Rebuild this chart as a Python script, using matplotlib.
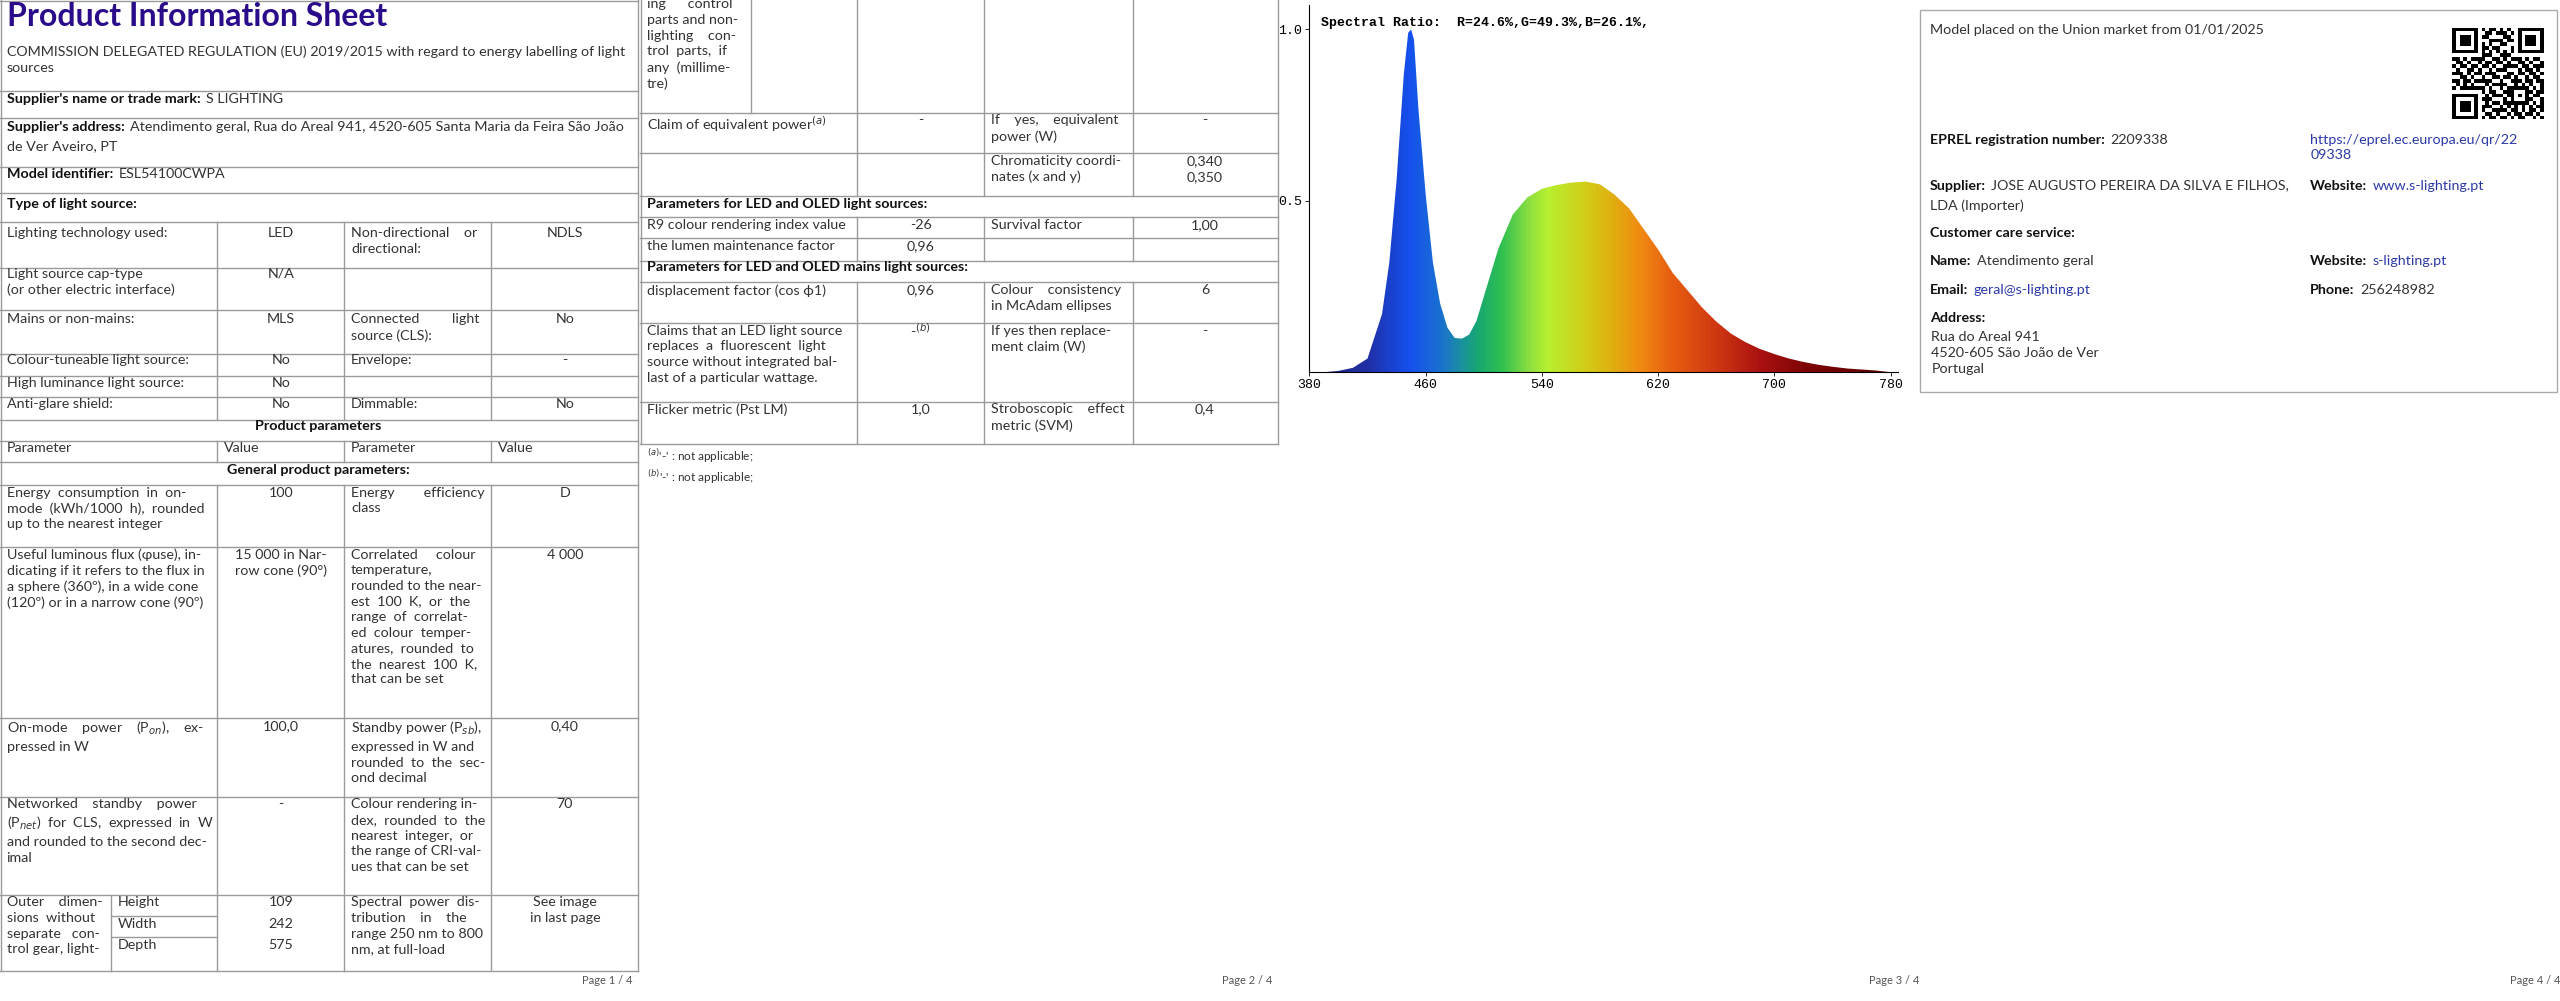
import numpy as np
import matplotlib
matplotlib.use("Agg")
import matplotlib.pyplot as plt
from matplotlib.colors import LinearSegmentedColormap
from matplotlib.patches import Rectangle

plt.rcParams['font.family'] = ['Lato', 'DejaVu Sans']

# spectrum (relative power)
wavelength = [380, 390, 400, 410, 420, 430, 435, 440, 445, 448, 450, 452, 455, 460, 465,
              470, 475, 480, 485, 490, 495, 500, 505, 510, 520, 530, 540, 550, 560, 570,
              580, 590, 600, 610, 620, 630, 640, 650, 660, 670, 680, 690, 700, 710, 720,
              730, 740, 750, 760, 770, 780]
power = [0.0, 0.0, 0.004, 0.013, 0.04, 0.17, 0.32, 0.56, 0.87, 0.99, 1.0, 0.97, 0.77, 0.52, 0.32,
         0.2, 0.13, 0.1, 0.098, 0.11, 0.15, 0.22, 0.29, 0.36, 0.46, 0.51, 0.535, 0.546, 0.553, 0.556,
         0.548, 0.518, 0.478, 0.418, 0.358, 0.29, 0.24, 0.19, 0.148, 0.113, 0.088, 0.068, 0.053, 0.04, 0.03,
         0.022, 0.016, 0.011, 0.008, 0.005, 0.0]
x_ticks = [380, 460, 540, 620, 700, 780]
ratio_text = 'Spectral Ratio:  R=24.6%,G=49.3%,B=26.1%,'

W, H = 2560, 1001
K = 2560 / 1568.0  # layout measured on a 1568-wide view
FS = 10.3
LS = 1.36
BLUE_LINK = '#2b3aa8'

fig = plt.figure(figsize=(W / 100, H / 100), dpi=100)
ax = fig.add_axes([0, 0, 1, 1])
ax.set_xlim(0, W)
ax.set_ylim(H, 0)
ax.axis('off')


def hl(x0, x1, y, c='#9a9a9a'):
    ax.plot([x0 * K, x1 * K], [y * K, y * K], color=c, lw=1.0)


def vl(x, y0, y1, c='#9a9a9a'):
    ax.plot([x * K, x * K], [y0 * K, y1 * K], color=c, lw=1.0)


def tx(x, y, s, ha='left', bold=False, size=FS, color='#333333', **kw):
    return ax.text(x * K, y * K, s, ha=ha, va='top', fontsize=size, color=color,
                   fontweight='bold' if bold else 'normal', linespacing=LS, **kw)


def kv(x, y, key, val, color='#333333'):
    t = tx(x, y, key, bold=True, color='#111111')
    ax.annotate(val, xy=(1, 1), xycoords=t, xytext=(4, 0), textcoords='offset points',
                ha='left', va='top', fontsize=FS, color=color, linespacing=LS)
    return t


# ---------------- page 1 ----------------
tx(4, 1, 'Product Information Sheet', bold=True, size=23, color='#2a0c8a')
tx(4, 28, 'COMMISSION DELEGATED REGULATION (EU) 2019/2015 with regard to energy labelling of light\nsources')
for y in [56, 72, 102, 118, 136, 164, 190, 217, 230, 243, 257, 270, 283, 297, 335, 440, 488, 548, 595]:
    hl(0, 391, y)
vl(0.5, 0, 595)
vl(391, 0, 595)
hl(0, 391, 0.5)
for x in [133, 211, 301]:
    vl(x, 136, 257)
    vl(x, 270, 283)
    vl(x, 297, 595)
vl(68, 548, 595)
hl(68, 133, 561)
hl(68, 133, 574)

kv(4, 57, "Supplier's name or trade mark:", 'S LIGHTING')
kv(4, 74, "Supplier's address:", 'Atendimento geral, Rua do Areal 941, 4520-605 Santa Maria da Feira São João')
tx(4, 86, 'de Ver Aveiro, PT')
kv(4, 103, 'Model identifier:', 'ESL54100CWPA')
tx(4, 121, 'Type of light source:', bold=True, color='#111111')

rows1 = [
    (139, 'Lighting technology used:', 'LED', 'Non-directional    or\ndirectional:', 'NDLS'),
    (164, 'Light source cap-type\n(or other electric interface)', 'N/A', '', ''),
    (192, 'Mains or non-mains:', 'MLS', 'Connected         light\nsource (CLS):', 'No'),
    (217, 'Colour-tuneable light source:', 'No', 'Envelope:', '-'),
    (231, 'High luminance light source:', 'No', '', ''),
    (244, 'Anti-glare shield:', 'No', 'Dimmable:', 'No'),
    (298, 'Energy  consumption  in  on-\nmode  (kWh/1000  h),  rounded\nup to the nearest integer', '100',
     'Energy        efficiency\nclass', 'D'),
    (336, 'Useful luminous flux (\u03c6use), in-\ndicating if it refers to the flux in\n'
          'a sphere (360º), in a wide cone\n(120º) or in a narrow cone (90º)', '15 000 in Nar-\nrow cone (90°)',
     'Correlated     colour\ntemperature,\nrounded to the near-\nest  100  K,  or  the\nrange  of  correlat-\n'
     'ed  colour  temper-\natures,  rounded  to\nthe  nearest  100  K,\nthat can be set', '4 000'),
    (441, 'On-mode    power    (P$_{on}$),    ex-\npressed in W', '100,0',
     'Standby power (P$_{sb}$),\nexpressed in W and\nrounded  to  the  sec-\nond decimal', '0,40'),
    (489, 'Networked    standby    power\n(P$_{net}$)  for  CLS,  expressed  in  W\nand rounded to the second dec-\nimal', '-',
     'Colour rendering in-\ndex,  rounded  to  the\nnearest  integer,  or\nthe range of CRI-val-\nues that can be set', '70'),
    (549, 'Outer    dimen-\nsions  without\nseparate   con-\ntrol gear, light-', '',
     'Spectral  power  dis-\ntribution    in    the\nrange 250 nm to 800\nnm, at full-load', 'See image\nin last page'),
]
for y, a, b, c, d in rows1:
    tx(4, y, a)
    tx(172, y, b, ha='center', multialignment='center')
    tx(215, y, c)
    tx(346, y, d, ha='center', multialignment='center')
tx(195, 257, 'Product parameters', ha='center', bold=True, color='#111111')
tx(4, 271, 'Parameter'); tx(137, 271, 'Value'); tx(215, 271, 'Parameter'); tx(305, 271, 'Value')
tx(195, 284, 'General product parameters:', ha='center', bold=True, color='#111111')
for y, nm, v in [(549, 'Height', '109'), (562, 'Width', '242'), (575, 'Depth', '575')]:
    tx(72, y, nm)
    tx(172, y, v, ha='center')
tx(372, 597, 'Page 1 / 4', ha='center', size=8, color='#555555')

# ---------------- page 2 ----------------
for y in [69, 94, 120, 133, 146, 160, 173, 198, 246, 272]:
    hl(392, 783, y)
vl(392.5, 0, 272)
vl(783, 0, 272)
for x in [525, 603, 694]:
    for y0, y1 in [(0, 120), (133, 160), (173, 272)]:
        vl(x, y0, y1)
vl(460, 0, 69)
tx(396, -1, 'ing      control\nparts and non-\nlighting    con-\ntrol  parts,  if\nany  (millime-\ntre)')
rows2 = [
    (70, 'Claim of equivalent power$^{(a)}$', '-', 'If    yes,    equivalent\npower (W)', '-'),
    (95, '', '', 'Chromaticity coordi-\nnates (x and y)', '0,340\n0,350'),
    (134, 'R9 colour rendering index value', '-26', 'Survival factor', '1,00'),
    (147, 'the lumen maintenance factor', '0,96', '', ''),
    (174, 'displacement factor (cos \u03d51)', '0,96', 'Colour    consistency\nin McAdam ellipses', '6'),
    (199, 'Claims that an LED light source\nreplaces  a  fluorescent  light\nsource without integrated bal-\n'
          'last of a particular wattage.', '-$^{(b)}$', 'If yes then replace-\nment claim (W)', '-'),
    (247, 'Flicker metric (Pst LM)', '1,0', 'Stroboscopic    effect\nmetric (SVM)', '0,4'),
]
for y, a, b, c, d in rows2:
    tx(396, y, a)
    tx(564, y, b, ha='center', multialignment='center')
    tx(607, y, c)
    tx(738, y, d, ha='center', multialignment='center')
tx(396, 121, 'Parameters for LED and OLED light sources:', bold=True, color='#111111')
tx(396, 160, 'Parameters for LED and OLED mains light sources:', bold=True, color='#111111')
tx(396, 274, "$^{(a)}$'-' : not applicable;", size=8.5)
tx(396, 287, "$^{(b)}$'-' : not applicable;", size=8.5)
tx(764, 597, 'Page 2 / 4', ha='center', size=8, color='#555555')

# ---------------- page 3: spectrum ----------------
x_px0, x_px1 = 802 * K, 1158 * K
y_px0, y_px1 = 228 * K, 18 * K
ymax = 1.07
sax = fig.add_axes([x_px0 / W, 1 - y_px0 / H, (x_px1 - x_px0) / W * 405 / 400,
                    (y_px0 - y_px1) * ymax / H])
sax.set_xlim(380, 785)
sax.set_ylim(0, ymax)
spec_cmap = LinearSegmentedColormap.from_list('spec', [
    (0.00, '#20206a'), (0.10, '#2030a8'), (0.17, '#1550ee'), (0.225, '#1a70d0'),
    (0.26, '#1a90a0'), (0.29, '#18a870'), (0.33, '#30c050'), (0.38, '#90e040'),
    (0.41, '#b8f030'), (0.47, '#d0d018'), (0.52, '#e0b010'), (0.57, '#f08a10'),
    (0.62, '#e86010'), (0.70, '#d03812'), (0.78, '#a81010'), (0.86, '#7c0404'),
    (1.00, '#5a0000')])
poly = sax.fill_between(wavelength, 0, power, color='none', lw=0)
grad = np.linspace(0, 1, 400).reshape(1, -1)
im = sax.imshow(grad, extent=[380, 780, 0, 1.0], aspect='auto', cmap=spec_cmap,
                origin='lower', zorder=1)
im.set_clip_path(poly.get_paths()[0], transform=sax.transData)
for s in ['top', 'right']:
    sax.spines[s].set_visible(False)
sax.spines['left'].set_linewidth(0.8)
sax.spines['bottom'].set_linewidth(0.8)
sax.set_xticks(x_ticks)
sax.set_xticklabels([str(v) for v in x_ticks], family='Liberation Mono', fontsize=9.5)
sax.set_yticks([0.5, 1.0])
sax.set_yticklabels(['0.5', '1.0'], family='Liberation Mono', fontsize=9.5)
sax.tick_params(length=3, width=0.6, pad=2)
sax.text(388, 1.0, ratio_text, family='Liberation Mono', fontweight='bold', fontsize=9.5,
         va='bottom')
sax.patch.set_alpha(0)
tx(1160, 597, 'Page 3 / 4', ha='center', size=8, color='#555555')

# ---------------- page 4 ----------------
ax.add_patch(Rectangle((1176 * K, 6 * K), 390 * K, 234 * K, fill=False, ec='#aaaaaa', lw=1.0))
tx(1182, 15, 'Model placed on the Union market from 01/01/2025')
kv(1182, 82, 'EPREL registration number:', '2209338')
tx(1415, 82, 'https://eprel.ec.europa.eu/qr/22\n09338', color=BLUE_LINK)
kv(1182, 110, 'Supplier:', 'JOSE AUGUSTO PEREIRA DA SILVA E FILHOS,')
tx(1182, 122, 'LDA (Importer)')
kv(1415, 110, 'Website:', 'www.s-lighting.pt', color=BLUE_LINK)
tx(1182, 139, 'Customer care service:', bold=True, color='#111111')
kv(1182, 156, 'Name:', 'Atendimento geral')
kv(1415, 156, 'Website:', 's-lighting.pt', color=BLUE_LINK)
kv(1182, 174, 'Email:', 'geral@s-lighting.pt', color=BLUE_LINK)
kv(1415, 174, 'Phone:', '256248982')
tx(1182, 191, 'Address:', bold=True, color='#111111')
tx(1183, 203, 'Rua do Areal 941\n4520-605 São João de Ver\nPortugal')

# QR-like code
qr_rows = [
    "1111111010110101001111111", "1000001001101110101000001", "1011101011000011001011101",
    "1011101000111101101011101", "1011101010100110001011101", "1000001011011000101000001",
    "1111111010101010101111111", "0000000011100111000000000", "1101011110011010111010110",
    "0110100101101101001101001", "1011011011010011110110111", "0100110100101110001011010",
    "1110101101110001101101101", "0011010010011011010010110", "1101101111100100111011011",
    "0101010001011110010101001", "1011111110100101111110101", "0000000010110011100011011",
    "1111111001011101101010110", "1000001011100010100011001", "1011101001011011111110101",
    "1011101011100101010101011", "1011101010011110110101101", "1000001001101001011011010",
    "1111111010110110101100101"]
qx, qy, cell = 1502 * K, 17 * K, 56 * K / 25
for i, row in enumerate(qr_rows):
    for j, c in enumerate(row):
        if c == '1':
            ax.add_patch(Rectangle((qx + j * cell, qy + i * cell), cell, cell, color='black', lw=0))
tx(1553, 597, 'Page 4 / 4', ha='center', size=8, color='#555555')

fig.savefig('out.png', dpi=100)
